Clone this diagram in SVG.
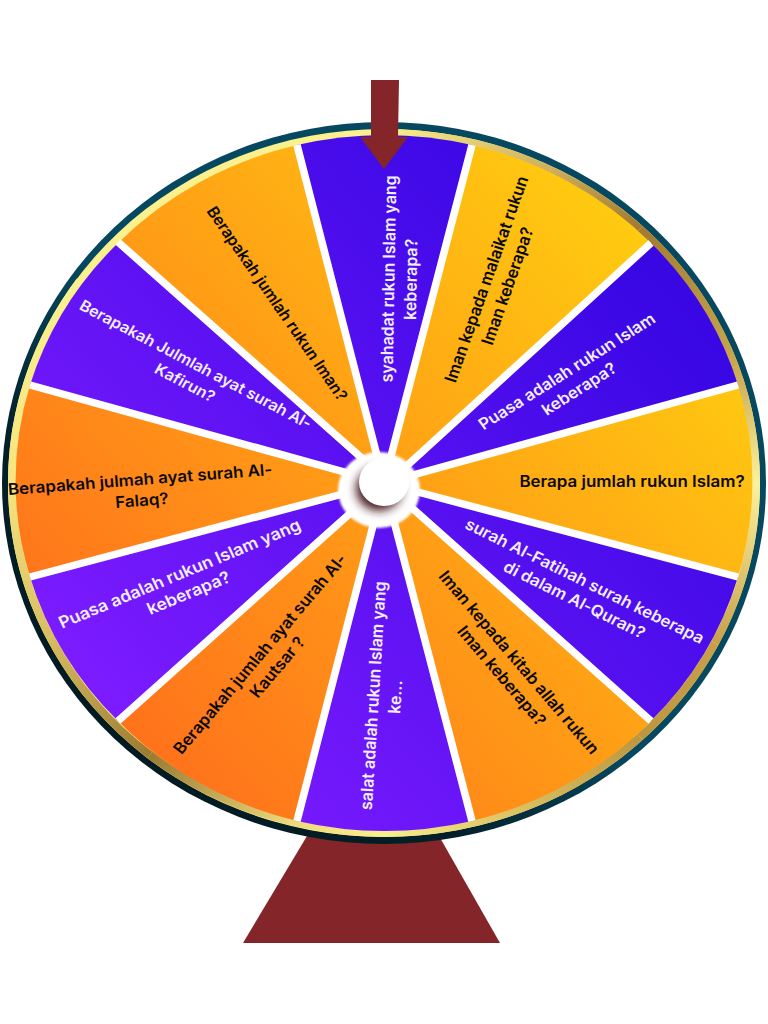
<svg xmlns="http://www.w3.org/2000/svg" width="768" height="1024" viewBox="0 0 768 1024">
<defs>
<linearGradient id="or" gradientUnits="userSpaceOnUse" x1="700" y1="200" x2="100" y2="740"><stop offset="0" stop-color="#ffd30f"/><stop offset="1" stop-color="#ff6f1c"/></linearGradient>
<linearGradient id="pu" gradientUnits="userSpaceOnUse" x1="640" y1="260" x2="120" y2="720"><stop offset="0" stop-color="#3807e4"/><stop offset="1" stop-color="#7c1bff"/></linearGradient>
<linearGradient id="dk" gradientUnits="userSpaceOnUse" x1="640" y1="200" x2="130" y2="770"><stop offset="0" stop-color="#06485f"/><stop offset=".55" stop-color="#06485f"/><stop offset=".78" stop-color="#03202a"/><stop offset="1" stop-color="#021a20"/></linearGradient>
<linearGradient id="g1" gradientUnits="userSpaceOnUse" x1="384" y1="133" x2="550" y2="170"><stop offset="0" stop-color="#faf08e"/><stop offset="1" stop-color="#cfae5c"/></linearGradient>
<linearGradient id="g2" gradientUnits="userSpaceOnUse" x1="550" y1="170" x2="640" y2="229"><stop offset="0" stop-color="#cfae5c"/><stop offset="1" stop-color="#a37a30"/></linearGradient>
<linearGradient id="g3" gradientUnits="userSpaceOnUse" x1="640" y1="229" x2="735" y2="367"><stop offset="0" stop-color="#a37a30"/><stop offset="1" stop-color="#c9a850"/></linearGradient>
<linearGradient id="g4" gradientUnits="userSpaceOnUse" x1="735" y1="367" x2="756" y2="483"><stop offset="0" stop-color="#c9a850"/><stop offset="1" stop-color="#fbf19e"/></linearGradient>
<linearGradient id="g5" gradientUnits="userSpaceOnUse" x1="756" y1="483" x2="715" y2="643"><stop offset="0" stop-color="#fbf19e"/><stop offset="1" stop-color="#c9a04a"/></linearGradient>
<linearGradient id="g6" gradientUnits="userSpaceOnUse" x1="715" y1="643" x2="640" y2="737"><stop offset="0" stop-color="#c9a04a"/><stop offset="1" stop-color="#bd9640"/></linearGradient>
<linearGradient id="g7" gradientUnits="userSpaceOnUse" x1="640" y1="737" x2="480" y2="821"><stop offset="0" stop-color="#bd9640"/><stop offset="1" stop-color="#e4cc6c"/></linearGradient>
<linearGradient id="g8" gradientUnits="userSpaceOnUse" x1="480" y1="821" x2="384" y2="833"><stop offset="0" stop-color="#e4cc6c"/><stop offset="1" stop-color="#faf08e"/></linearGradient>
<linearGradient id="g9" gradientUnits="userSpaceOnUse" x1="384" y1="833" x2="290" y2="821"><stop offset="0" stop-color="#faf08e"/><stop offset="1" stop-color="#ecd87a"/></linearGradient>
<linearGradient id="g10" gradientUnits="userSpaceOnUse" x1="290" y1="821" x2="150" y2="755"><stop offset="0" stop-color="#ecd87a"/><stop offset="1" stop-color="#9c7a32"/></linearGradient>
<linearGradient id="g11" gradientUnits="userSpaceOnUse" x1="150" y1="755" x2="50" y2="637"><stop offset="0" stop-color="#9c7a32"/><stop offset="1" stop-color="#d8bc60"/></linearGradient>
<linearGradient id="g12" gradientUnits="userSpaceOnUse" x1="50" y1="637" x2="12" y2="483"><stop offset="0" stop-color="#d8bc60"/><stop offset="1" stop-color="#f6e580"/></linearGradient>
<linearGradient id="g13" gradientUnits="userSpaceOnUse" x1="12" y1="483" x2="80" y2="281"><stop offset="0" stop-color="#f6e580"/><stop offset="1" stop-color="#faf08e"/></linearGradient>
<filter id="blur" x="-60%" y="-60%" width="220%" height="220%"><feGaussianBlur stdDeviation="5"/></filter>
<filter id="soft" x="-20%" y="-20%" width="140%" height="140%"><feGaussianBlur stdDeviation="1.2"/></filter>
</defs>
<style>
.or{fill:url(#or)}.pu{fill:url(#pu)}
.sp{stroke:#fff;stroke-width:7.5;fill:none}
.rg{fill:none;stroke-width:8}
text{font-family:"Inter","Liberation Sans",sans-serif;font-size:16px;font-weight:600;text-anchor:middle}
.k{fill:#0c0a08}.w{fill:#f3edff}
.br{fill:#832529}
</style>
<g id="stand"><path class="br" d="M307 836H439L500 943H243Z"/></g>
<g id="rim">
<ellipse cx="384" cy="483" rx="382" ry="361" fill="url(#dk)"/>
<ellipse cx="384" cy="483" rx="376" ry="354" fill="#faf08e"/>
<path class="rg" stroke="url(#g1)" d="M384 133A372 350 0 0 1 550 170"/>
<path class="rg" stroke="url(#g2)" d="M550 170A372 350 0 0 1 640 229"/>
<path class="rg" stroke="url(#g3)" d="M640 229A372 350 0 0 1 735 367"/>
<path class="rg" stroke="url(#g4)" d="M735 367A372 350 0 0 1 756 483"/>
<path class="rg" stroke="url(#g5)" d="M756 483A372 350 0 0 1 715 643"/>
<path class="rg" stroke="url(#g6)" d="M715 643A372 350 0 0 1 640 737"/>
<path class="rg" stroke="url(#g7)" d="M640 737A372 350 0 0 1 480 821"/>
<path class="rg" stroke="url(#g8)" d="M480 821A372 350 0 0 1 384 833"/>
<path class="rg" stroke="url(#g9)" d="M384 833A372 350 0 0 1 290 821"/>
<path class="rg" stroke="url(#g10)" d="M290 821A372 350 0 0 1 150 755"/>
<path class="rg" stroke="url(#g11)" d="M150 755A372 350 0 0 1 50 637"/>
<path class="rg" stroke="url(#g12)" d="M50 637A372 350 0 0 1 12 483"/>
<path class="rg" stroke="url(#g13)" d="M12 483A372 350 0 0 1 80 281"/>
</g>
<g id="wedges">
<path id="s1" class="pu" d="M384 483L297 145A369 347 0 0 1 472 145Z"/>
<path id="s2" class="or" d="M384 483L472 145A369 347 0 0 1 651 243Z"/>
<path id="s3" class="pu" d="M384 483L651 243A369 347 0 0 1 738 385Z"/>
<path id="s4" class="or" d="M384 483L738 385A369 347 0 0 1 738 577Z"/>
<path id="s5" class="pu" d="M384 483L738 577A369 347 0 0 1 651 721Z"/>
<path id="s6" class="or" d="M384 483L651 721A369 347 0 0 1 472 821Z"/>
<path id="s7" class="pu" d="M384 483L472 821A369 347 0 0 1 297 821Z"/>
<path id="s8" class="or" d="M384 483L297 821A369 347 0 0 1 118 721Z"/>
<path id="s9" class="pu" d="M384 483L118 721A369 347 0 0 1 30 577Z"/>
<path id="s10" class="or" d="M384 483L30 577A369 347 0 0 1 30 385Z"/>
<path id="s11" class="pu" d="M384 483L30 385A369 347 0 0 1 118 243Z"/>
<path id="s12" class="or" d="M384 483L118 243A369 347 0 0 1 297 145Z"/>
</g>
<g id="connectors">
<path class="sp" d="M384 483L297 145M384 483L472 145M388 483L651 243M384 483L738 385M384 483L738 577M384 483L651 721M384 483L472 821M384 483L297 821M384 483L118 721M384 483L30 577M384 483L30 385M390 483L118 242"/>
</g>
<g id="hub">
<ellipse cx="379" cy="490" rx="41" ry="38" fill="#fff" filter="url(#soft)"/>
<ellipse cx="379" cy="489" rx="23" ry="22" fill="#4a1f22" filter="url(#blur)"/>
<ellipse cx="384" cy="482" rx="25" ry="24" fill="#fff"/>
</g>
<g id="pointer"><path class="br" d="M371 80H399L398 137H408L384 169L360 137H371Z"/></g>
<g id="labels">
<text class="w" transform="translate(394.5,279) scale(1.058,1) rotate(-89)"><tspan x="0" y="0">syahadat rukun Islam yang</tspan><tspan x="0" y="21">keberapa?</tspan></text>
<text class="k" transform="translate(492,281) scale(1.058,1) rotate(-71.4)"><tspan x="0" y="0">Iman kepada malaikat rukun</tspan><tspan x="0" y="21">Iman keberapa?</tspan></text>
<text class="w" transform="translate(570,376) scale(1.058,1) rotate(-33.7)"><tspan x="0" y="0">Puasa adalah rukun Islam</tspan><tspan x="0" y="21">keberapa?</tspan></text>
<text class="k" transform="translate(632,487) scale(1.058,1)">Berapa jumlah rukun Islam?</text>
<text class="w" transform="translate(582,586) scale(1.058,1) rotate(27.5)"><tspan x="0" y="0">surah Al-Fatihah surah keberapa</tspan><tspan x="0" y="21">di dalam Al-Quran?</tspan></text>
<text class="k" transform="translate(514.5,666) scale(1.058,1) rotate(51)"><tspan x="0" y="0">Iman kepada kitab allah rukun</tspan><tspan x="0" y="21">Iman keberapa?</tspan></text>
<text class="w" transform="translate(379,696) scale(1.058,1) rotate(-86.6)"><tspan x="0" y="0">salat adalah rukun Islam yang</tspan><tspan x="0" y="21">ke...</tspan></text>
<text class="k" transform="translate(264.5,657.5) scale(1.058,1) rotate(-51.3)"><tspan x="0" y="0">Berapakah jumlah ayat surah Al-</tspan><tspan x="0" y="21">Kautsar ?</tspan></text>
<text class="w" style="font-size:16.6px" transform="translate(182,579) scale(1.058,1) rotate(-23.7)"><tspan x="0" y="0">Puasa adalah rukun Islam yang</tspan><tspan x="0" y="21">keberapa?</tspan></text>
<text class="k" transform="translate(140.5,485) scale(1.058,1) rotate(-4.6)"><tspan x="0" y="0">Berapakah julmah ayat surah Al-</tspan><tspan x="0" y="21">Falaq?</tspan></text>
<text class="w" style="font-size:15.3px" transform="translate(193,369) scale(1.058,1) rotate(29)"><tspan x="0" y="0">Berapakah Julmlah ayat surah Al-</tspan><tspan x="0" y="21">Kafirun?</tspan></text>
<text class="k" style="font-size:15.4px" transform="translate(272.5,306.5) scale(1.058,1) rotate(56.7)">Berapakah jumlah rukun Iman?</text>
</g>
</svg>
